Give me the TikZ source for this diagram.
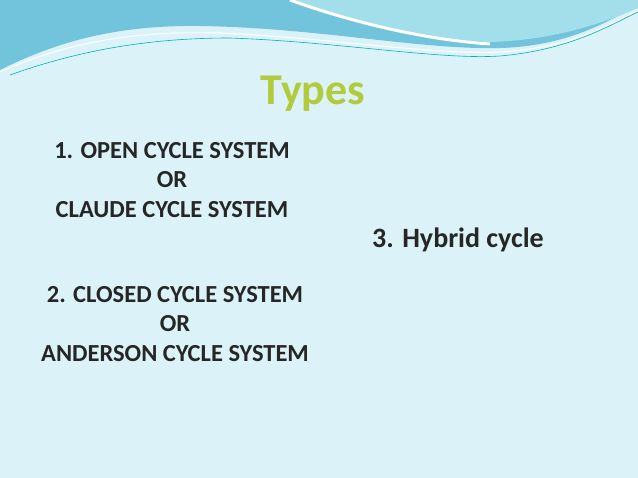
\documentclass[tikz,border=0pt]{standalone}
\usepackage{fontspec}
\setmainfont{Carlito}
\definecolor{bg}{HTML}{DBF3F8}
\definecolor{wave}{HTML}{72C4DC}
\definecolor{wavelt}{HTML}{A2DFEA}
\definecolor{ttlc}{HTML}{B2CB3C}
\begin{document}
\begin{tikzpicture}[x=1pt,y=-1pt,
 txt/.style={font=\bfseries\fontsize{24.5}{29.5}\selectfont,text=black!85,align=center,inner sep=0},
 ttl/.style={font=\bfseries\fontsize{44}{48}\selectfont,text=ttlc,inner sep=0}]
\fill[bg] (0,0) rectangle (638,478);
\useasboundingbox (0,0) rectangle (638,478);
\fill[wave] (0,0) -- (0,70) .. controls (60,40) and (120,25) .. (200,26) .. controls (320,28) and (420,50) .. (500,48) .. controls (570,46) and (610,20) .. (638,5) -- (638,0) -- cycle;
\fill[wavelt] (290,0) .. controls (360,25) and (430,40) .. (490,42) .. controls (560,40) and (610,20) .. (638,8) -- (638,0) -- cycle;
\draw[white,line width=3pt] (290,0) .. controls (360,25) and (430,40) .. (490,44);
\draw[white,line width=1pt] (0,72) .. controls (60,45) and (130,30) .. (220,33) .. controls (330,38) and (430,55) .. (500,52) .. controls (570,48) and (610,25) .. (638,10);
\draw[teal!60!cyan,line width=0.6pt] (10,75) .. controls (80,50) and (150,38) .. (230,38) .. controls (340,42) and (440,60) .. (500,56) .. controls (570,50) and (610,25) .. (638,12);
\node[ttl] (t) at (313,94) {Types};
\node[txt] (a) at (172,180) {1. OPEN CYCLE SYSTEM\\OR\\CLAUDE CYCLE SYSTEM};
\node[txt] (b) at (175,324) {2. CLOSED CYCLE SYSTEM\\OR\\ANDERSON CYCLE SYSTEM};
\node[txt,font=\bfseries\fontsize{28}{32}\selectfont] (c) at (458,240) {3. Hybrid cycle};
\end{tikzpicture}
\end{document}
